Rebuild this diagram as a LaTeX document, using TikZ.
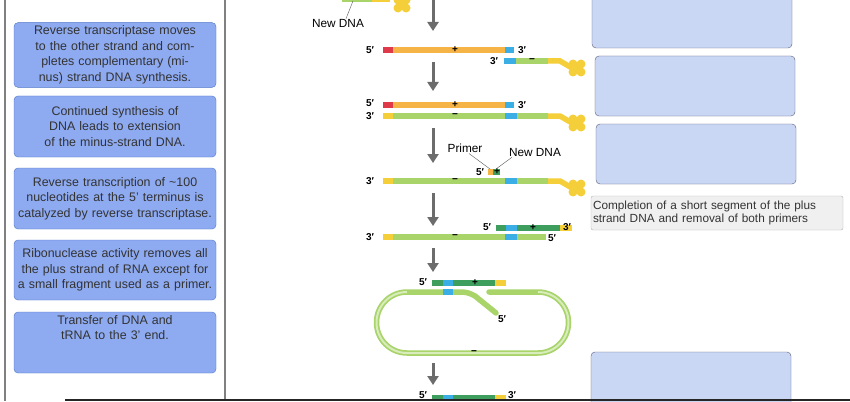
\documentclass[tikz,border=0pt]{standalone}
\usepackage{fontspec}
\setmainfont{Liberation Sans}
\usetikzlibrary{arrows.meta}
\definecolor{lbox}{HTML}{8EAAF0}
\definecolor{lbord}{HTML}{4A72C8}
\definecolor{rbox}{HTML}{C9D7F5}
\definecolor{rbord}{HTML}{5A5E78}
\definecolor{sgreen}{HTML}{A8D46A}
\definecolor{dgreen}{HTML}{3E9E5E}
\definecolor{sorange}{HTML}{F5B445}
\definecolor{syellow}{HTML}{F5CF3A}
\definecolor{sblue}{HTML}{3BAEE6}
\definecolor{sred}{HTML}{E03A4A}
\definecolor{txt}{HTML}{333333}
\newcommand\sg[4]{\draw[line width=5.5pt,#4] (#1,#3) -- (#2,#3);}
\newcommand\clover[2]{\fill[syellow] (#1-4,#2-4) circle (4.5pt) (#1+4,#2-4) circle (4.5pt) (#1-4,#2+4) circle (4.5pt) (#1+4,#2+4) circle (4.5pt) (#1,#2) circle (4pt);}
\begin{document}
\begin{tikzpicture}[x=1pt,y=-1pt,
 lb/.style={draw=lbord,fill=lbox,rounded corners=4pt,minimum width=202pt,align=center,text width=196pt,inner xsep=3pt,font=\fontsize{12.4}{15.5}\selectfont,text=txt},
 rb/.style={draw=rbord,fill=rbox,rounded corners=4pt,minimum width=200pt,minimum height=60pt},
 ar/.style={draw=gray!85!black,line width=3pt,-{Triangle[width=11pt,length=9pt]}},
 pr/.style={font=\bfseries\fontsize{10}{10}\selectfont,text=black,inner sep=0pt},
 lab/.style={font=\fontsize{11.8}{12}\selectfont,text=black,inner sep=1pt}]
\useasboundingbox (0,0) rectangle (850,401);
\fill[white] (0,0) rectangle (850,401);
\draw[gray,line width=1.5pt] (5,0) -- (5,401) (225,0) -- (225,401);
% left boxes
\node[lb,minimum height=62pt] (b1) at (115,55) {Reverse transcriptase moves to the other strand and completes complementary (minus) strand DNA synthesis.};
\node[lb,minimum height=61pt] (b2) at (115,126.5) {Continued synthesis of DNA leads to extension of the minus-strand DNA.};
\node[lb,minimum height=61pt] (b3) at (115,198.5) {Reverse transcription of \textasciitilde100 nucleotides at the 5' terminus is catalyzed by reverse transcriptase.};
\node[lb,minimum height=60pt] (b4) at (115,270) {Ribonuclease activity removes all the plus strand of RNA except for a small fragment used as a primer.};
\node[lb,minimum height=61pt] (b5) at (115,342.5) {Transfer of DNA and tRNA to the 3' end.\\[14pt]\mbox{}};
% right boxes
\node[rb,minimum height=54pt] (r1) at (692,21) {};
\node[rb] (r2) at (695,86) {};
\node[rb] (r3) at (696,154) {};
\node[draw=gray!60,fill=gray!12,rounded corners=2pt,minimum width=252pt,minimum height=34pt,text width=248pt,inner xsep=2pt,align=left,font=\fontsize{11.8}{13.5}\selectfont,text=txt] (r4) at (717,213) {Completion of a short segment of the plus strand DNA and removal of both primers};
\node[rb,minimum height=56pt] (r5) at (691,380) {};
% arrows
\foreach \a/\b [count=\i] in {0/31,62/91,128/163,193/226,248/272,363/385}{
 \coordinate (s\i) at (433,\a); \coordinate (e\i) at (433,\b); \draw[ar] (s\i) -- (e\i);}
% row0
\sg{342}{372}{-1}{sgreen}\sg{372}{390}{-1}{syellow}
\clover{402}{4}
\node[lab] (nd0) at (338,24) {New DNA};
\coordinate (p0) at (353,1); \draw[gray!70!black] (nd0.north) ++(8,0) -- (p0);
% row1
\node[pr] at (370,50) {5′};
\sg{383}{393}{50}{sred}\sg{393}{505}{50}{sorange}\sg{505}{514}{50}{sblue}
\node[pr] at (455,50) {+};\node[pr] at (522,50) {3′};
\node[pr] at (494,61) {3′};
\sg{504}{516}{61}{sblue}\sg{516}{548}{61}{sgreen}
\draw[line width=5.5pt,syellow] (548,61) -- (560,61) -- (572,68);
\clover{577}{68}\node[pr] at (532,61) {−};
% row2
\node[pr] at (370,103) {5′};\node[pr] at (370,116) {3′};
\sg{383}{393}{105}{sred}\sg{393}{505}{105}{sorange}\sg{505}{514}{105}{sblue}
\node[pr] at (455,105) {+};\node[pr] at (522,105) {3′};
\sg{383}{393}{116}{syellow}\sg{393}{505}{116}{sgreen}\sg{505}{517}{116}{sblue}\sg{517}{548}{116}{sgreen}
\draw[line width=5.5pt,syellow] (548,116) -- (560,116) -- (572,123);
\clover{577}{123}\node[pr] at (455,116) {−};
% row3
\node[lab] (prim) at (465,148) {Primer};
\node[lab] (nd3) at (535,152) {New DNA};
\sg{488}{493}{172}{sorange}\sg{493}{500}{172}{dgreen}\node[pr] at (497,172) {+};
\node[pr] at (480,172) {5′};
\draw[gray!70!black] (prim.south) ++(4,0) -- (490,169);
\draw[gray!70!black] (nd3.south west) ++(4,0) -- (496,169);
\node[pr] at (370,181) {3′};
\sg{383}{393}{181}{syellow}\sg{393}{505}{181}{sgreen}\sg{505}{517}{181}{sblue}\sg{517}{548}{181}{sgreen}
\draw[line width=5.5pt,syellow] (548,181) -- (560,181) -- (572,188);
\clover{577}{188}\node[pr] at (455,181) {−};
% row4
\node[pr] at (487,227) {5′};
\sg{496}{506}{228}{dgreen}\sg{506}{517}{228}{sblue}\sg{517}{560}{228}{dgreen}\sg{560}{572}{228}{syellow}
\node[pr] at (533,228) {+};\node[pr] at (567,227) {3′};
\node[pr] at (370,237) {3′};
\sg{383}{393}{237}{syellow}\sg{393}{505}{237}{sgreen}\sg{505}{517}{237}{sblue}\sg{517}{546}{237}{sgreen}
\node[pr] at (455,237) {−};\node[pr] at (552,238) {5′};
% row5
\node[pr] at (423,282) {5′};
\sg{432}{443}{283}{dgreen}\sg{443}{453}{283}{sblue}\sg{453}{495}{283}{dgreen}\sg{495}{506}{283}{syellow}
\node[pr] at (475,283) {+};
\draw[line width=5.5pt,sgreen,line cap=round] (496,313) -- (475,296) to[out=150,in=0] (460,292) -- (407,292) arc (90:270:30.5pt) -- (538,353) arc (270:450:30.5pt) -- (489,292);
\draw[line width=2pt,white!55!sgreen] (407,292) arc (90:270:30.5pt) -- (538,353) arc (270:450:30.5pt);
\sg{443}{453}{292}{sblue}
\node[pr] at (502,319) {5′};\node[pr] at (474,353) {−};
% row6
\sg{432}{443}{398}{dgreen}\sg{443}{453}{398}{sblue}\sg{453}{495}{398}{dgreen}\sg{495}{506}{398}{syellow}
\node[pr] at (423,395) {5′};\node[pr] at (512,395) {3′};
\draw[black!85,line width=1.2pt] (65,400) -- (850,400);
\end{tikzpicture}
\end{document}
